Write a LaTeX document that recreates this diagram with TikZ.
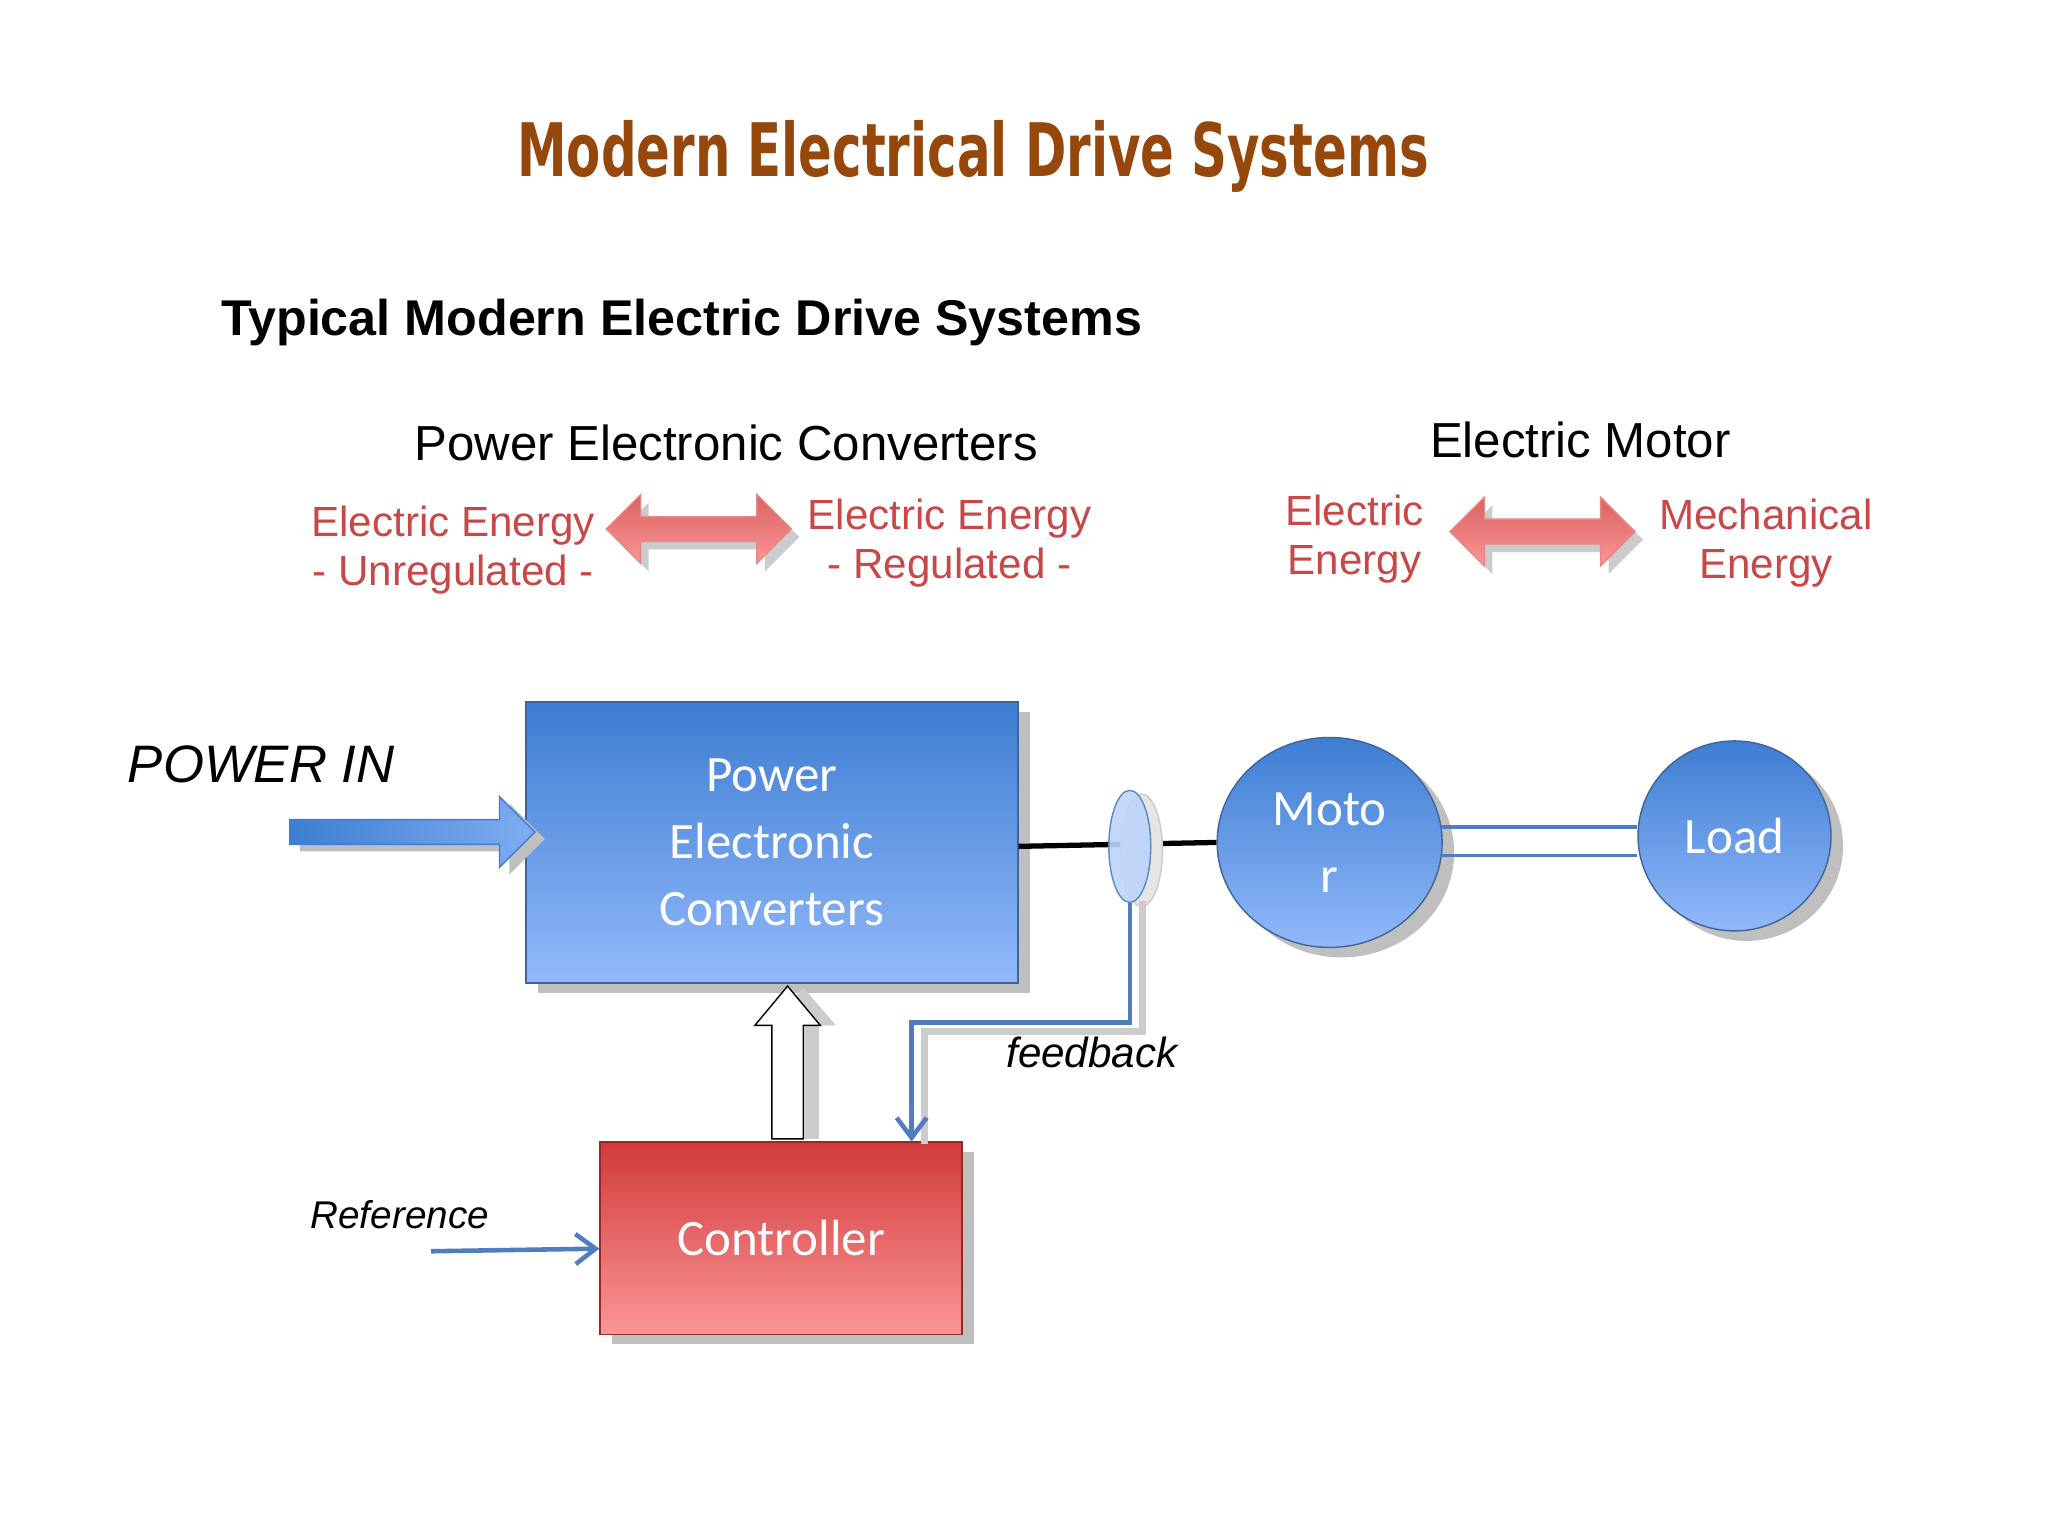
\documentclass[tikz,border=0pt]{standalone}
\usepackage{fontspec}
\setmainfont{Liberation Sans}
\newfontfamily\calfont{Carlito}
\newfontfamily\condfont{DejaVu Sans Condensed}
\usetikzlibrary{shapes.arrows,shapes.geometric,shadows,arrows.meta}
\definecolor{titlebrown}{RGB}{150,72,12}
\definecolor{lblred}{RGB}{200,72,72}
\definecolor{boxtop}{RGB}{62,125,210}
\definecolor{boxbot}{RGB}{145,185,250}
\definecolor{redtop}{RGB}{210,58,58}
\definecolor{redbot}{RGB}{250,150,150}
\definecolor{linkblue}{RGB}{80,125,190}
\begin{document}
\begin{tikzpicture}[x=0.01306cm,y=-0.01306cm,
  lbl/.style={text=lblred,font=\fontsize{12}{14}\selectfont,align=center},
  head/.style={font=\fontsize{14}{17}\selectfont},
  blk/.style={draw=linkblue!80!black,top color=boxtop,bottom color=boxbot,
    text=white,font=\calfont\fontsize{14.5}{19}\selectfont,align=center,
    drop shadow={shadow xshift=1.2mm,shadow yshift=-1mm,fill=black!25,opacity=1}},
  rarrow/.style={double arrow,double arrow head extend=0.22cm,minimum height=1.85cm,
    minimum width=0.3cm,top color=redtop!80,bottom color=redbot,draw=redtop!60,
    drop shadow={shadow xshift=0.8mm,shadow yshift=-0.8mm,fill=black!20,opacity=1}}]
\useasboundingbox (0,0) rectangle (1568,1176);
\node[font=\condfont\bfseries\fontsize{21}{24}\selectfont,text=titlebrown] (title) at (745,120) {\scalebox{0.75}[1]{Modern Electrical Drive Systems}};
\node[font=\bfseries\fontsize{14.3}{17}\selectfont] (sub) at (522,247) {Typical Modern Electric Drive Systems};
\node[head] (hpec) at (556,339) {Power Electronic Converters};
\node[head] (hmot) at (1210,337) {Electric Motor};
\node[lbl] (eu) at (347,421) {Electric Energy\\- Unregulated -};
\node[lbl] (er) at (727,416) {Electric Energy\\- Regulated -};
\node[lbl] (ee) at (1037,413) {Electric\\ Energy};
\node[lbl] (me) at (1352,416) {Mechanical\\Energy};
\node[rarrow] (da1) at (535,405) {};
\node[rarrow] (da2) at (1181,407) {};
% blocks
\node[blk,minimum width=4.92cm,minimum height=2.81cm] (pec) at (591,645) {Power\\Electronic\\Converters};
\node[blk,top color=redtop,bottom color=redbot,draw=redtop!70!black,minimum width=3.62cm,minimum height=1.92cm] (ctl) at (598,948) {Controller};
\node[blk,ellipse,minimum width=2.25cm,minimum height=2.1cm] (mot) at (1018,645) {Moto\\r};
\node[blk,ellipse,minimum width=1.93cm,minimum height=1.9cm] (load) at (1328,640) {Load};
% power in
\node[font=\itshape\fontsize{15}{18}\selectfont] (pin) at (200,585) {POWER IN};
\node[single arrow,single arrow head extend=0.23cm,minimum height=2.45cm,minimum width=0.48cm,
  left color=boxtop,right color=boxbot!80!boxtop,draw=boxtop,
  drop shadow={shadow xshift=1mm,shadow yshift=-0.7mm,fill=black!25,opacity=1}] (parr) at (311,637) {};
% shaft and sensor
\coordinate (s1) at (865,648);
\draw[line width=1.5pt] (pec.east |- s1) -- (mot.west);
\draw[fill=black!10,draw=black!20] (874,651) ellipse [x radius=16,y radius=43];
\node[draw=linkblue,fill=boxbot!60,opacity=0.9,ellipse,minimum width=0.42cm,minimum height=1.12cm,inner sep=0] (sens) at (s1) {};
\draw[linkblue,line width=1pt] (1103,633) -- (load.west |- 0,633);
\draw[linkblue,line width=1pt] (1103,655) -- (load.west |- 0,655);
% feedback
\coordinate (f1) at (865,783);
\coordinate (f2) at (698,783);
\draw[black!20,line width=2pt] (875,690) -- (875,790) -- (708,790) -- (708,876);
\draw[linkblue,line width=1.3pt,-{Straight Barb[length=2mm,width=3mm]}] (sens.south) -- (f1) -- (f2) -- (f2 |- ctl.north);
\node[font=\itshape\fontsize{12}{14}\selectfont] (fb) at (836,806) {feedback};
% control arrow
\fill[black!20] (603,872) ++(-12+12,0) -- ++(0,-87) -- ++(-13,0) -- ++(25,-29) -- ++(25,29) -- ++(-13,0) -- ++(0,87) -- cycle;
\draw[fill=white] (603,872) ++(-12,0) -- ++(0,-87) -- ++(-13,0) -- ++(25,-30) -- ++(25,30) -- ++(-13,0) -- ++(0,87) -- cycle;
% reference
\node[font=\itshape\fontsize{11}{13}\selectfont] (ref) at (306,930) {Reference};
\coordinate (r0) at (330,958);
\draw[linkblue,line width=1.3pt,-{Straight Barb[length=2mm,width=3mm]}] (r0) -- (ctl.west |- 0,956);
\end{tikzpicture}
\end{document}
